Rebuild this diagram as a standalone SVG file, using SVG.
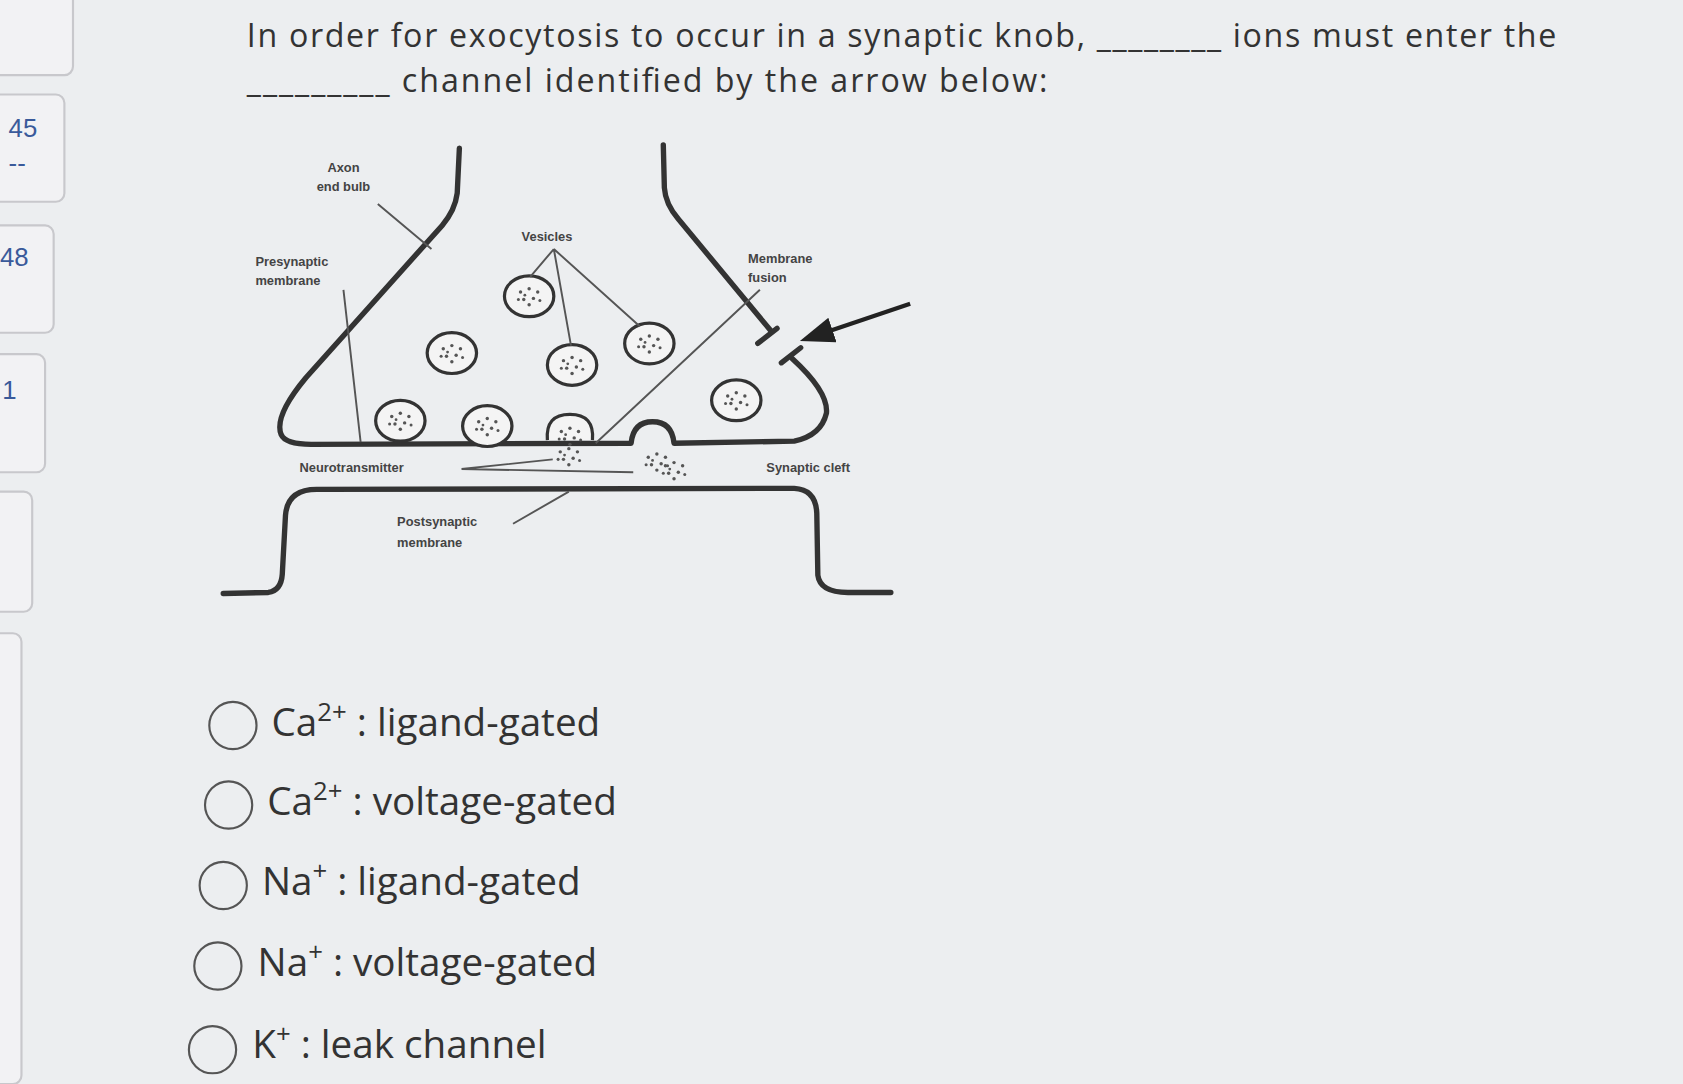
<svg xmlns="http://www.w3.org/2000/svg" width="1683" height="1084" viewBox="0 0 1683 1084">
<style>
.ln{fill:none;stroke:#333;stroke-width:5;stroke-linecap:round;stroke-linejoin:round}
.th{fill:none;stroke:#555;stroke-width:1.8}
.ves{fill:#f4f4f4;stroke:#333;stroke-width:3}
.lb{font-family:"Liberation Sans",Arial,sans-serif;font-weight:bold;font-size:12px;fill:#444}
.q{font-family:"Open Sans","Liberation Sans",sans-serif;font-size:30px;fill:#333}
.op{font-family:"Open Sans","Liberation Sans",sans-serif;font-size:36px;fill:#333}
.rad{fill:none;stroke:#555;stroke-width:2}
.side{fill:#f2f2f4;stroke:#c8c8cc;stroke-width:2}
.sn{font-family:"Liberation Sans",sans-serif;font-size:24px;fill:#3a5a9a}
</style>
<defs>
<g id="dots" fill="#555"><circle cx="-8" cy="-4" r="1.6"/><circle cx="0" cy="-7" r="1.6"/><circle cx="8" cy="-4" r="1.6"/><circle cx="-5" cy="3" r="1.6"/><circle cx="4" cy="2" r="1.6"/><circle cx="-10" cy="3" r="1.4"/><circle cx="10" cy="4" r="1.4"/><circle cx="0" cy="8" r="1.6"/><circle cx="-4" cy="-1" r="1.3"/></g>
<marker id="ah" markerWidth="8" markerHeight="6" refX="2" refY="3" orient="auto" markerUnits="strokeWidth"><path d="M0,0 L8,3 L0,6 z" fill="#222"/></marker>
</defs>
<rect width="1683" height="1084" fill="#eceef0"/>
<g transform="scale(1.0733)">
<g id="sidebar">
<rect x="-20" y="-10" width="88" height="80" rx="8" class="side"/>
<rect x="-20" y="88" width="80" height="100" rx="8" class="side"/>
<rect x="-20" y="210" width="70" height="100" rx="8" class="side"/>
<rect x="-20" y="330" width="62" height="110" rx="8" class="side"/>
<rect x="-20" y="458" width="50" height="112" rx="8" class="side"/>
<rect x="-20" y="590" width="40" height="420" rx="8" class="side"/>
<text x="8" y="128" class="sn">45</text><text x="8" y="160" class="sn">--</text>
<text x="0" y="248" class="sn">48</text><text x="2" y="372" class="sn">1</text>
</g>
<g id="question">
<text x="230" y="44" class="q" textLength="1220" lengthAdjust="spacing">In order for exocytosis to occur in a synaptic knob, ________ ions must enter the</text>
<text x="230" y="86" class="q" textLength="746" lengthAdjust="spacing">_________ channel identified by the arrow below:</text>
</g>
<g id="diagram">
<path class="ln" d="M428,138 L426,180 Q424,196 412,210 L285,352 Q255,388 262,405 Q266,414 290,414 L588,413 Q590,393 608,393 Q626,393 628,413 L740,411 Q765,406 770,385 Q772,365 738,334"/>
<path class="ln" d="M618,135 L619,175 Q620,190 632,204 L718,308"/>
<path class="ln" d="M706,320 L724,306 M728,338 L746,324"/>
<path class="ln" d="M208,553 L250,552 Q262,550 263,535 L266,480 Q268,456 295,456 L740,455 Q760,456 761,478 L762,536 Q764,552 790,552 L830,552"/>
<ellipse cx="493" cy="276" rx="23" ry="19" class="ves"/><use href="#dots" x="493" y="276"/>
<ellipse cx="421" cy="329" rx="23" ry="19" class="ves"/><use href="#dots" x="421" y="329"/>
<ellipse cx="533" cy="340" rx="23" ry="19" class="ves"/><use href="#dots" x="533" y="340"/>
<ellipse cx="605" cy="320" rx="23" ry="19" class="ves"/><use href="#dots" x="605" y="320"/>
<ellipse cx="373" cy="392" rx="23" ry="19" class="ves"/><use href="#dots" x="373" y="392"/>
<ellipse cx="454" cy="397" rx="23" ry="19" class="ves"/><use href="#dots" x="454" y="397"/>
<ellipse cx="686" cy="373" rx="23" ry="19" class="ves"/><use href="#dots" x="686" y="373"/>
<path class="ves" d="M510,410 Q508,386 531,386 Q554,386 552,410"/><use href="#dots" x="531" y="406"/>
<use href="#dots" x="612" y="430"/><use href="#dots" x="628" y="438"/><use href="#dots" x="530" y="425"/>
<g id="leaders">
<path class="th" d="M352,190 L402,232 M320,270 L336,412 M516,232 L494,258 M516,232 L532,322 M516,232 L596,304 M708,270 L555,413 M430,437 L515,428 M430,437 L590,440 M478,488 L530,458"/>
</g>
<line x1="848" y1="283" x2="768" y2="310" stroke="#222" stroke-width="4" marker-end="url(#ah)"/>
<text x="320" y="160" class="lb" text-anchor="middle">Axon</text>
<text x="320" y="178" class="lb" text-anchor="middle">end bulb</text>
<text x="238" y="248" class="lb">Presynaptic</text><text x="238" y="266" class="lb">membrane</text>
<text x="486" y="225" class="lb">Vesicles</text>
<text x="697" y="245" class="lb">Membrane</text><text x="697" y="263" class="lb">fusion</text>
<text x="279" y="440" class="lb">Neurotransmitter</text>
<text x="714" y="440" class="lb">Synaptic cleft</text>
<text x="370" y="490" class="lb">Postsynaptic</text><text x="370" y="510" class="lb">membrane</text>
</g>
<g id="options">
<circle cx="217" cy="676" r="22" class="rad"/><text x="253" y="686" class="op">Ca<tspan dy="-14" font-size="24">2+</tspan><tspan dy="14"> : ligand-gated</tspan></text>
<circle cx="213" cy="750" r="22" class="rad"/><text x="249" y="759" class="op">Ca<tspan dy="-14" font-size="24">2+</tspan><tspan dy="14"> : voltage-gated</tspan></text>
<circle cx="208" cy="825" r="22" class="rad"/><text x="244" y="834" class="op">Na<tspan dy="-14" font-size="24">+</tspan><tspan dy="14"> : ligand-gated</tspan></text>
<circle cx="203" cy="900" r="22" class="rad"/><text x="240" y="909" class="op">Na<tspan dy="-14" font-size="24">+</tspan><tspan dy="14"> : voltage-gated</tspan></text>
<circle cx="198" cy="978" r="22" class="rad"/><text x="235" y="986" class="op">K<tspan dy="-14" font-size="24">+</tspan><tspan dy="14"> : leak channel</tspan></text>
</g>
</g>
</svg>
